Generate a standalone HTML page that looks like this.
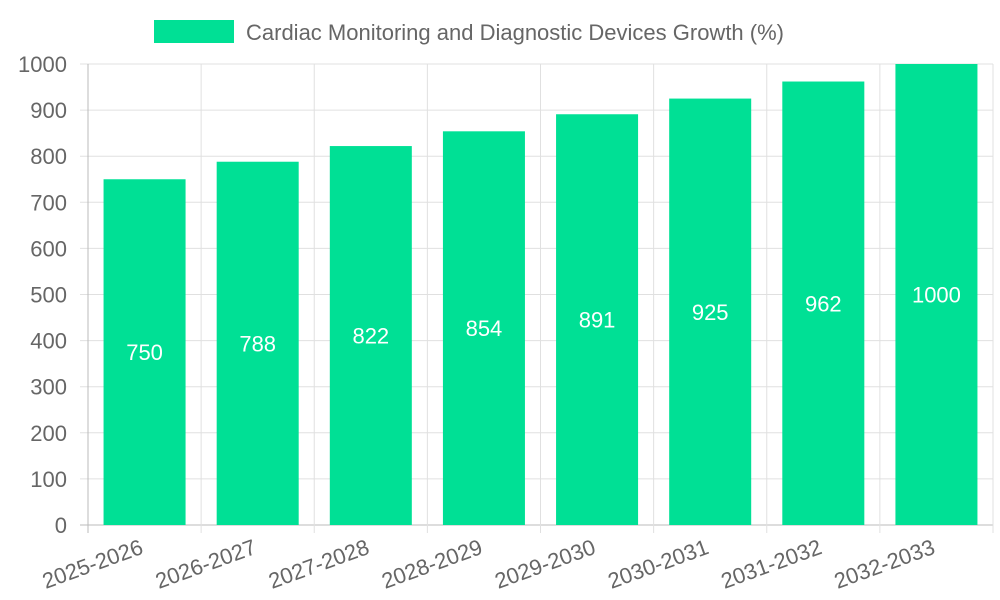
<!DOCTYPE html>
<html><head><meta charset="utf-8"><style>
html,body{margin:0;padding:0;background:#fff;}
svg{display:block;font-family:"Liberation Sans",sans-serif;}
</style></head><body>
<svg id="chart" width="1000" height="600" viewBox="0 0 1000 600" xmlns="http://www.w3.org/2000/svg">
<g>
<rect x="154" y="20" width="80" height="23" fill="#00e095"/>
<text x="246" y="40" font-size="22" fill="#666">Cardiac Monitoring and Diagnostic Devices Growth (%)</text>
</g>
<g id="grid"></g>
<g id="bars"></g>
<g id="axes"></g>
</svg>
<script>
const categories = ["2025-2026","2026-2027","2027-2028","2028-2029","2029-2030","2030-2031","2031-2032","2032-2033"];
const values = [750,788,822,854,891,925,962,1000];
const yTicks = [0,100,200,300,400,500,600,700,800,900,1000];

const NS = "http://www.w3.org/2000/svg";
const L = 88, R = 993, T = 64, B = 525, yMax = 1000;
const step = (R - L) / categories.length;
const barW = step * 0.725;
function y(v){ return B - (v / yMax) * (B - T); }
function x(i){ return L + step * i; }
function mk(tag, attrs, parent){
  const e = document.createElementNS(NS, tag);
  for (const k in attrs) e.setAttribute(k, attrs[k]);
  parent.appendChild(e); return e;
}
const grid = document.getElementById('grid');
const bars = document.getElementById('bars');
const axes = document.getElementById('axes');

yTicks.forEach(t => {
  const ln = mk('line', {x1: L - 8, x2: R, y1: y(t), y2: y(t), stroke: t === 0 ? '#bbb' : '#e0e0e0', 'stroke-width': 1}, grid);
  
  
  const tx = mk('text', {x: L - 21, y: y(t) + 8, 'text-anchor': 'end', 'font-size': 22, fill: '#666'}, axes);
  tx.textContent = t;
  
  
});
for (let i = 0; i <= categories.length; i++) {
  const ln = mk('line', {x1: x(i), x2: x(i), y1: T, y2: B + 8, stroke: i === 0 ? '#bbb' : '#e0e0e0', 'stroke-width': 1}, grid);
  
  
}
categories.forEach((c, i) => {
  const cx = x(i) + step / 2;
  const r = mk('rect', {x: cx - barW / 2, y: y(values[i]), width: barW, height: B - y(values[i]), fill: '#00e095'}, bars);
  
  
  const lb = mk('text', {x: cx, y: (y(values[i]) + B) / 2 + 8, 'text-anchor': 'middle', 'font-size': 22, fill: '#fff'}, bars);
  lb.textContent = values[i];
  
  
  const tl = mk('text', {x: cx, y: B + 28, 'text-anchor': 'end', 'font-size': 22, fill: '#666', transform: `rotate(-20 ${cx} ${B + 28})`}, axes);
  tl.textContent = c;
  
  
});
</script>
</body></html>
